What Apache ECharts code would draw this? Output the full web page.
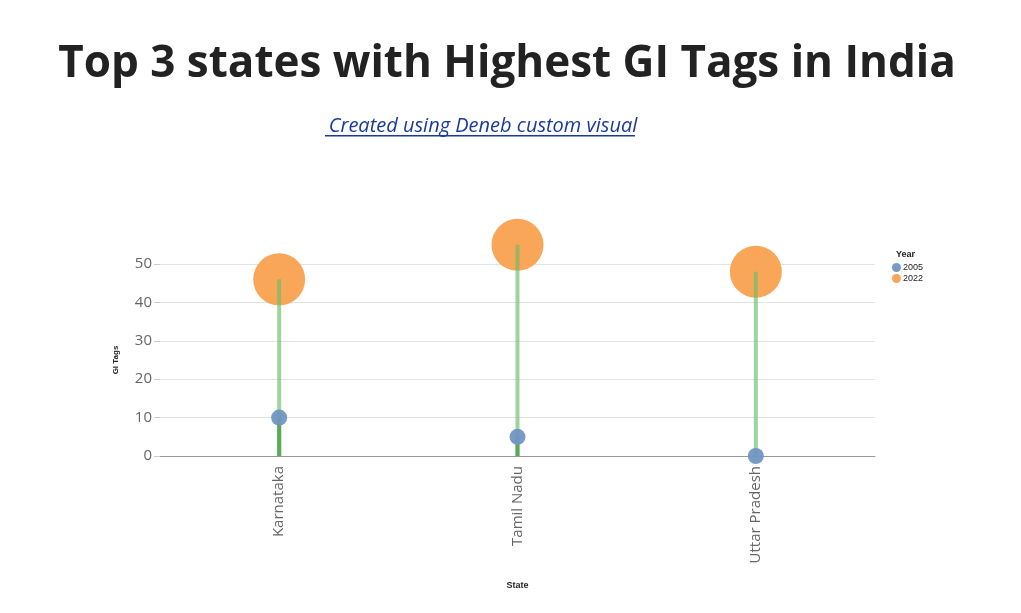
<!DOCTYPE html>
<html><head><meta charset="utf-8">
<script src="https://cdn.jsdelivr.net/npm/echarts@6/dist/echarts.min.js"></script>
<style>html,body{margin:0;padding:0;background:#fff}#c{width:1021px;height:613px}</style>
</head><body><div id="c"></div>
<script>
const states = ['Karnataka', 'Tamil Nadu', 'Uttar Pradesh'];
const tags2005 = [10, 5, 0];
const tags2022 = [46, 55, 48];

const chart = echarts.init(document.getElementById('c'));
chart.setOption({
  animation: false,
  title: [
    {text: 'Top 3 states with Highest GI Tags in India', left: 502, top: 37, textAlign: 'center',
     textStyle: {fontFamily: 'Open Sans', fontWeight: 'bold', fontSize: 44, color: '#222'}},
    {text: 'Created using Deneb custom visual', left: 478, top: 111, textAlign: 'center',
     textStyle: {fontFamily: 'Open Sans', fontStyle: 'italic', fontWeight: 'normal', fontSize: 20, color: '#1a3a9c'}},
    {text: 'Year', left: 891, top: 245,
     textStyle: {fontFamily: 'Liberation Sans', fontWeight: 'bold', fontSize: 9, color: '#222'}}
  ],
  graphic: [{type: 'rect', shape: {x: 325, y: 135, width: 310, height: 1.5}, style: {fill: '#1a3a9c'}}],
  legend: {
    data: [{name: '2005', itemStyle: {color: '#7096c2'}}, {name: '2022', itemStyle: {color: '#f9a150'}}],
    orient: 'vertical', left: 887, top: 258, icon: 'circle', itemWidth: 9, itemHeight: 9, itemGap: 2,
    textStyle: {fontFamily: 'Liberation Sans', fontSize: 9, color: '#222', padding: [0,0,0,-3]}
  },
  grid: {left: 160, right: 146, top: 264, bottom: 157},
  xAxis: {type: 'category', data: states, name: 'State', nameLocation: 'middle', nameGap: 125,
    nameTextStyle: {fontFamily: 'Liberation Sans', fontWeight: 'bold', fontSize: 9, color: '#222'},
    axisLine: {lineStyle: {color: '#999'}}, axisTick: {show: false},
    axisLabel: {rotate: 90, fontFamily: 'Open Sans', fontSize: 15, color: '#666', margin: 10}},
  yAxis: {type: 'value', min: 0, max: 50, interval: 10, name: 'GI Tags', nameLocation: 'middle', nameGap: 40,
    nameTextStyle: {fontFamily: 'Liberation Sans', fontWeight: 'bold', fontSize: 8, color: '#222'},
    axisLine: {show: false}, axisTick: {show: true, length: 6, lineStyle: {color: '#ccc'}},
    axisLabel: {fontFamily: 'Open Sans', fontSize: 15, color: '#666', margin: 8},
    splitLine: {lineStyle: {color: '#e3e3e3'}}},
  series: [
    {name: '2022', type: 'scatter', data: tags2022, symbolSize: 52, z: 1, clip: false,
     itemStyle: {color: '#f9a150', opacity: 0.95}},
    {name: 'l2022', type: 'bar', data: tags2022, barWidth: 4, z: 2, clip: false, itemStyle: {color: 'rgba(106,190,106,0.65)'}},
    {name: 'l2005', type: 'bar', data: tags2005, barWidth: 4, barGap: '-100%', z: 3, clip: false, itemStyle: {color: '#5aaa55'}},
    {name: '2005', type: 'scatter', data: tags2005, symbolSize: 16, z: 4, clip: false,
     itemStyle: {color: '#7096c2', opacity: 0.95}}
  ]
});
</script></body></html>
